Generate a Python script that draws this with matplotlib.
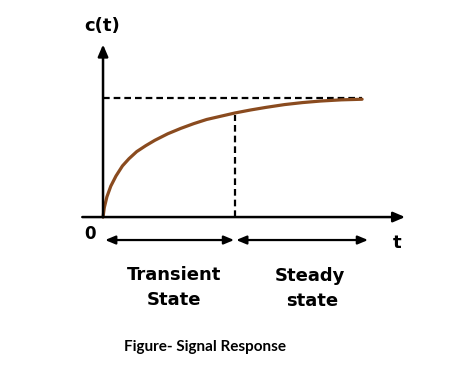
import matplotlib
matplotlib.use("Agg")
from matplotlib import pyplot as plt

# response curve (t in arbitrary units, c normalised to final value)
t_vals = [0.0, 0.05, 0.15, 0.3, 0.5, 0.75, 1.0, 1.3, 1.65, 2.0, 2.5, 3.0, 3.5, 4.0,
          4.5, 5.1, 5.7, 6.3, 7.0, 7.7, 8.4, 9.2, 10.0]
c_vals = [0.0, 0.08, 0.17, 0.26, 0.345, 0.43, 0.49, 0.55, 0.60, 0.645, 0.70, 0.745, 0.785, 0.82,
          0.845, 0.875, 0.90, 0.922, 0.945, 0.962, 0.975, 0.985, 0.99]
c_final = 1.0
t_split = 5.1
t_end = 10.0

W, H = 474, 367
fig = plt.figure(figsize=(W / 100, H / 100), dpi=100)
ax = fig.add_axes([0, 0, 1, 1])
ax.set_xlim(-3.977, 14.32)
ax.set_ylim(-1.26, 1.824)
ax.axis('off')

# axes with arrows
ax.annotate('', xy=(11.66, 0), xytext=(-0.8, 0),
            arrowprops=dict(arrowstyle='-|>,head_length=0.7,head_width=0.3', color='black', lw=1.8,
                            shrinkA=0, shrinkB=0))
ax.annotate('', xy=(0, 1.45), xytext=(0, 0),
            arrowprops=dict(arrowstyle='-|>,head_length=0.7,head_width=0.3', color='black', lw=1.8,
                            shrinkA=0, shrinkB=0))

# dashed guides
ax.plot([0, t_end], [c_final, c_final], color='black', lw=1.6, linestyle=(0, (3, 1.8)))
ax.plot([t_split, t_split], [0, 0.86], color='black', lw=1.6, linestyle=(0, (3, 1.8)))

# response
ax.plot(t_vals, c_vals, color='#8a4b1f', lw=2.3, solid_capstyle='round', solid_joinstyle='round')

# transient / steady spans
arr = dict(arrowstyle='<|-|>,head_length=0.6,head_width=0.25', color='black', lw=1.6,
           shrinkA=0, shrinkB=0)
ax.annotate('', xy=(5.06, -0.193), xytext=(0.08, -0.193), arrowprops=arr)
ax.annotate('', xy=(10.23, -0.193), xytext=(5.14, -0.193), arrowprops=arr)

def px(x, y):
    return x / W, 1 - y / H

bold = dict(fontweight='bold', family='DejaVu Sans', color='black')
fig.text(*px(102, 26), 'c(t)', fontsize=13, ha='center', va='center', **bold)
fig.text(*px(90, 234), '0', fontsize=12, ha='center', va='center', **bold)
fig.text(*px(397, 243), 't', fontsize=13, ha='center', va='center', **bold)
fig.text(*px(174, 280), 'Transient', fontsize=13, ha='center', va='baseline', **bold)
fig.text(*px(174, 305), 'State', fontsize=13, ha='center', va='baseline', **bold)
fig.text(*px(310, 281), 'Steady', fontsize=13, ha='center', va='baseline', **bold)
fig.text(*px(312, 306), 'state', fontsize=13, ha='center', va='baseline', **bold)
fig.text(*px(205, 351), 'Figure- Signal Response', fontsize=11, ha='center', va='baseline',
         fontweight='bold', family='Lato', color='black')

fig.savefig('out.png', dpi=100, facecolor='white')
